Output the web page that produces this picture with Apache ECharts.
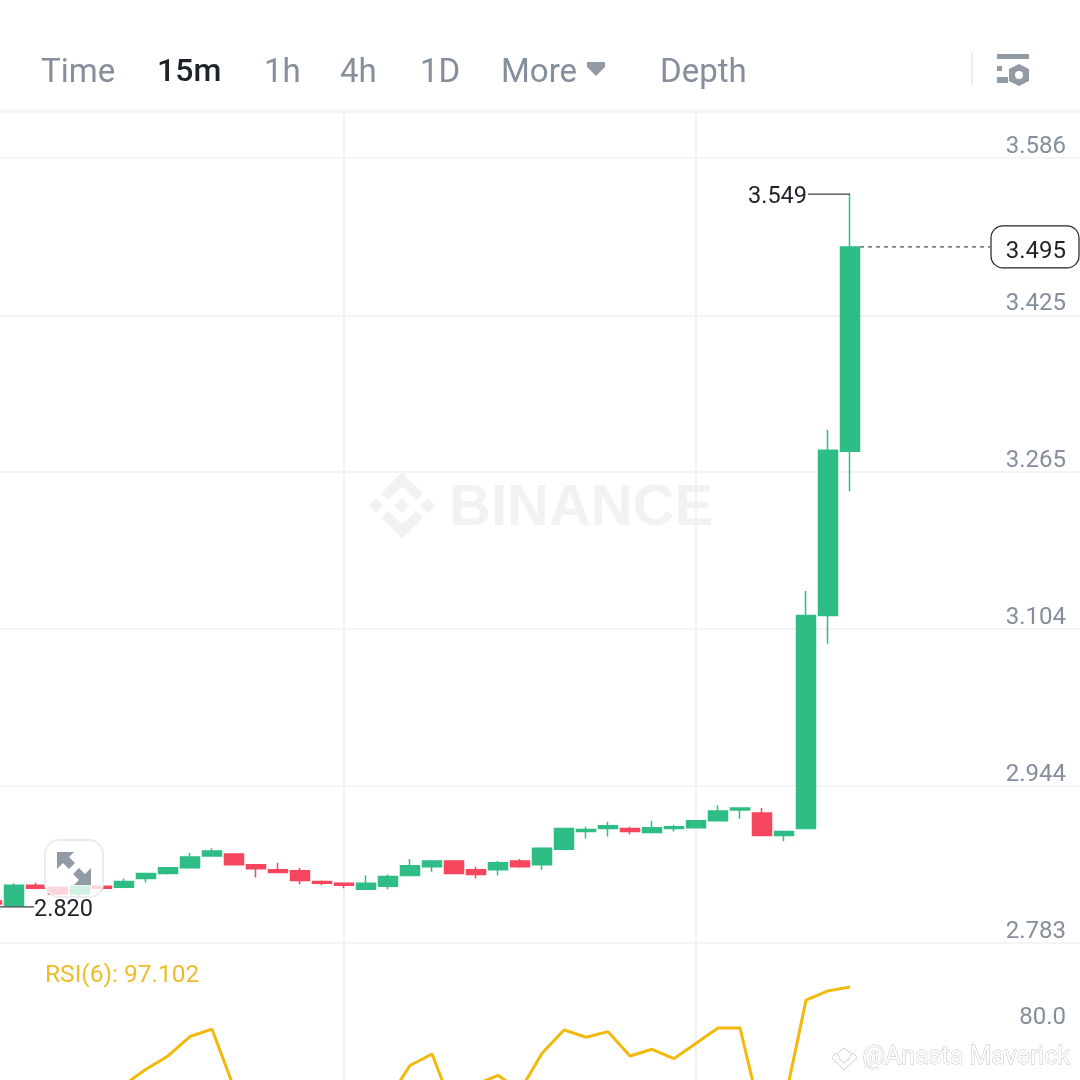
<!DOCTYPE html>
<html>
<head>
<meta charset="utf-8">
<style>html,body{margin:0;padding:0;background:#fff}#chart{width:1080px;height:1080px}</style>
<script src="https://cdn.jsdelivr.net/npm/echarts@6/dist/echarts.min.js"></script>
</head>
<body>
<div id="chart"></div>
<script>
const opens  = [2.826,2.821,2.842,2.840,2.833,2.841,2.840,2.849,2.854,2.860,2.872,2.874,2.863,2.858,2.857,2.846,2.844,2.838,2.841,2.852,2.861,2.867,2.858,2.858,2.867,2.863,2.879,2.897,2.900,2.900,2.896,2.900,2.901,2.908,2.919,2.916,2.893,2.900,3.118,3.286];
const closes = [2.823,2.842,2.839,2.833,2.841,2.839,2.846,2.854,2.860,2.871,2.877,2.863,2.859,2.855,2.847,2.844,2.842,2.844,2.851,2.862,2.867,2.854,2.853,2.865,2.861,2.880,2.900,2.899,2.903,2.897,2.901,2.902,2.908,2.918,2.921,2.893,2.897,3.118,3.287,3.495];
const lows   = [2.820,2.820,2.838,2.832,2.831,2.836,2.839,2.845,2.853,2.860,2.872,2.863,2.850,2.855,2.843,2.842,2.839,2.837,2.838,2.852,2.856,2.854,2.849,2.852,2.860,2.858,2.879,2.890,2.892,2.894,2.895,2.897,2.900,2.908,2.910,2.893,2.887,2.900,3.089,3.245];
const highs  = [2.827,2.844,2.845,2.841,2.842,2.842,2.849,2.854,2.860,2.875,2.880,2.874,2.863,2.865,2.860,2.847,2.845,2.852,2.853,2.869,2.868,2.867,2.861,2.867,2.869,2.880,2.900,2.902,2.907,2.902,2.908,2.904,2.908,2.924,2.921,2.921,2.898,3.143,3.308,3.549];
const rsi6   = [null,null,null,null,null,null,57.2,63.6,69.0,76.9,79.9,56.0,null,null,null,null,null,null,51.3,65.1,69.8,46.6,57.4,61.1,54.8,70.1,79.6,76.6,78.9,69.0,71.7,67.9,74.2,80.4,80.4,42.9,49.1,91.7,95.5,97.1];

const priceTicks = [2.783, 2.944, 3.104, 3.265, 3.425, 3.586];
const rsiTicks = [80];
const dayLines = [16, 32];
const lastPrice = 3.495;
const highMark = [39, 3.549];
const lowMark = [0, 2.820];

// 40 candles plus empty bars on the right
const categories = [];
for (let i = 0; i < 50; i++) categories.push(String(i));

const candles = opens.map((o, i) => [o, closes[i], lows[i], highs[i]]);

const font = 'Roboto';
const grey = '#848e9c';
const iconGrey = '#929aa5';
const dark = '#1e2329';
const gridColor = '#eff1f3';

function headerText(text, x, color, weight) {
    return {
        type: 'text', left: x, top: 57,
        style: {text, fill: color || grey, font: (weight || 'normal') + ' 33px ' + font},
    };
}

function poly(points, fill) {
    return {type: 'polygon', shape: {points}, style: {fill}, z: 0};
}

const watermarkColor = '#f1f2f3';

const graphics = [
    {type: 'rect', shape: {x: 0, y: 110, width: 1080, height: 3}, style: {fill: '#f5f6f7'}},
    headerText('Time', 41),
    {type: 'text', left: 157, top: 57, style: {text: '15m', fill: dark, font: '500 32px ' + font}},
    headerText('1h', 264),
    headerText('4h', 340),
    headerText('1D', 420),
    headerText('More', 501),
    poly([[587, 62], [605, 62], [605, 67], [596, 76], [587, 67]], iconGrey),
    headerText('Depth', 660),
    {type: 'rect', shape: {x: 971, y: 53, width: 2, height: 32}, style: {fill: '#eaecef'}},
    // settings icon
    {type: 'rect', shape: {x: 997, y: 54, width: 32, height: 5}, style: {fill: iconGrey}},
    {type: 'rect', shape: {x: 997, y: 66, width: 5, height: 5}, style: {fill: iconGrey}},
    {type: 'rect', shape: {x: 997, y: 77, width: 11, height: 6}, style: {fill: iconGrey}},
    poly([[1019, 64], [1029, 69], [1029, 81], [1019, 86], [1009, 81], [1009, 69]], iconGrey),
    {type: 'circle', shape: {cx: 1019, cy: 75, r: 4}, style: {fill: '#fff'}},
    // BINANCE watermark
    poly([[402, 498], [409.5, 505.5], [402, 513], [394.5, 505.5]], watermarkColor),
    poly([[376, 498], [383.5, 505.5], [376, 513], [368.5, 505.5]], watermarkColor),
    poly([[428, 498], [435.5, 505.5], [428, 513], [420.5, 505.5]], watermarkColor),
    poly([[402, 472.5], [423, 493.5], [416, 500], [402, 486.5], [388, 500], [381, 493.5]], watermarkColor),
    poly([[402, 538.5], [423, 517.5], [416, 511], [402, 524.5], [388, 511], [381, 517.5]], watermarkColor),
    {type: 'text', left: 449, top: 480, z: 0, style: {text: 'BINANCE', fill: watermarkColor, font: 'bold 58px "Liberation Sans"'}},
    // RSI legend
    {type: 'text', left: 45, top: 963, style: {text: 'RSI(6): 97.102', fill: '#eebc2a', font: '24.5px ' + font}},
    // expand button, sits over the candles
    {type: 'rect', z: 20, shape: {x: 45, y: 840, width: 58, height: 57, r: 14}, style: {fill: 'rgba(255,255,255,0.78)', stroke: '#eaecef', lineWidth: 2}},
    {type: 'polygon', z: 21, shape: {points: [[57, 852], [74, 852], [69, 857], [75, 863], [69, 869], [63, 863], [57, 869]]}, style: {fill: iconGrey}},
    {type: 'polygon', z: 21, shape: {points: [[91, 885], [74, 885], [79, 880], [73, 874], [79, 868], [85, 874], [91, 868]]}, style: {fill: iconGrey}},
    // author watermark
    {type: 'polyline', z: 21, shape: {points: [[832, 1057], [836, 1053], [840, 1057]]}, style: {stroke: '#cfcfcf', fill: null, lineWidth: 1}},
    {type: 'polyline', z: 21, shape: {points: [[838, 1053], [844, 1048], [851, 1053]]}, style: {stroke: '#cfcfcf', fill: null, lineWidth: 1}},
    {type: 'polyline', z: 21, shape: {points: [[849, 1057], [853, 1053], [857, 1057]]}, style: {stroke: '#cfcfcf', fill: null, lineWidth: 1}},
    {type: 'polyline', z: 21, shape: {points: [[832, 1058], [844, 1070], [857, 1058]]}, style: {stroke: '#cfcfcf', fill: null, lineWidth: 1}},
    {type: 'polyline', z: 21, shape: {points: [[839, 1058], [844, 1063], [850, 1058]]}, style: {stroke: '#cfcfcf', fill: null, lineWidth: 1}},
    {type: 'text', z: 21, left: 862, top: 1045, style: {text: '@Anasta Maverick', fill: 'rgba(255,255,255,0.9)', stroke: '#bdbdbd', lineWidth: 0.8, font: '25px ' + font}},
];

// high / low callouts and the last price tag
function renderMarks(params, api) {
    const kind = api.value(2);
    const pt = api.coord([api.value(0), api.value(1)]);
    if (kind === 0 || kind === 1) {
        const label = api.value(1).toFixed(3);
        const toRight = kind === 1;
        const endX = pt[0] + (toRight ? 42 : -42);
        return {
            type: 'group',
            children: [
                {type: 'line', shape: {x1: pt[0], y1: pt[1], x2: endX, y2: pt[1]}, style: {stroke: '#3c4249', lineWidth: 1.2}},
                {type: 'text', style: {
                    text: label, x: endX + (toRight ? 0 : -1), y: pt[1] + 3,
                    align: toRight ? 'left' : 'right', verticalAlign: 'middle',
                    fill: dark, font: '23.5px ' + font,
                }},
            ],
        };
    }
    return {
        type: 'group',
        children: [
            {type: 'line', shape: {x1: pt[0] + 10, y1: pt[1], x2: 990, y2: pt[1]}, style: {stroke: '#474d57', lineWidth: 1.2, lineDash: [4, 4]}},
            {type: 'rect', shape: {x: 991, y: pt[1] - 21, width: 88, height: 42, r: 12}, style: {fill: '#fff', stroke: dark, lineWidth: 1.2}},
            {type: 'text', style: {text: api.value(1).toFixed(3), x: 1066, y: pt[1] + 5, align: 'right', verticalAlign: 'middle', fill: dark, font: '24px ' + font}},
        ],
    };
}

function xAxisFor(gridIndex) {
    return {
        type: 'category',
        gridIndex,
        data: categories,
        axisLine: {show: false},
        axisTick: {show: false},
        axisLabel: {show: false},
        splitLine: {
            show: true,
            alignWithLabel: true,
            interval: i => dayLines.indexOf(i) >= 0,
            lineStyle: {color: gridColor, width: 2},
        },
    };
}

function yAxisFor(gridIndex, min, max, ticks, digits, split) {
    return {
        type: 'value',
        gridIndex,
        position: 'right',
        min,
        max,
        axisLine: {show: false},
        axisTick: {show: false, customValues: ticks},
        axisLabel: {
            inside: true,
            margin: 15,
            customValues: ticks,
            verticalAlign: 'bottom',
            lineHeight: 22,
            color: grey,
            fontFamily: font,
            fontSize: 24,
            formatter: v => v.toFixed(digits),
        },
        splitLine: {show: split, lineStyle: {color: gridColor, width: 1.5}},
    };
}

option = {
    backgroundColor: '#fff',
    animation: false,
    graphic: {elements: graphics},
    grid: [
        {left: -19, width: 1100, top: 112, height: 831, outerBoundsMode: 'none'},
        {left: -19, width: 1100, top: 943, height: 137, outerBoundsMode: 'none'},
    ],
    xAxis: [xAxisFor(0), xAxisFor(1)],
    yAxis: [
        yAxisFor(0, 2.783, 3.633, priceTicks, 3, true),
        yAxisFor(1, 59.2, 115, rsiTicks, 1, false),
    ],
    series: [
        {
            type: 'candlestick',
            xAxisIndex: 0,
            yAxisIndex: 0,
            barWidth: 19,
            data: candles,
            itemStyle: {
                color: '#2ebd85',
                color0: '#f6465d',
                borderColor: '#2ebd85',
                borderColor0: '#f6465d',
                borderWidth: 1.5,
            },
            z: 5,
        },
        {
            type: 'line',
            xAxisIndex: 1,
            yAxisIndex: 1,
            data: rsi6,
            showSymbol: false,
            lineStyle: {color: '#f0b90b', width: 3},
            z: 5,
        },
        {
            type: 'custom',
            xAxisIndex: 0,
            yAxisIndex: 0,
            clip: false,
            renderItem: renderMarks,
            data: [
                [lowMark[0], lowMark[1], 1],
                [highMark[0], highMark[1], 0],
                [highMark[0], lastPrice, 2],
            ],
            z: 6,
        },
    ],
};

chart = echarts.init(document.getElementById('chart'));
chart.setOption(option);
</script>
</body>
</html>
